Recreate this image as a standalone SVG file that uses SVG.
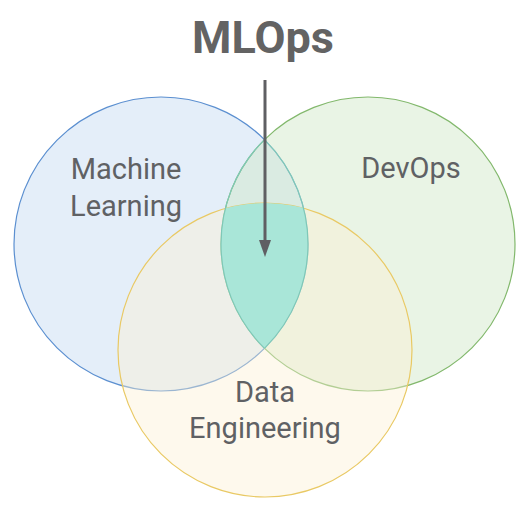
<svg xmlns="http://www.w3.org/2000/svg" width="526" height="514" viewBox="0 0 526 514">
<style>
.lbl{font-family:Roboto,"Liberation Sans",sans-serif;font-size:29px;fill:#5f6164;text-anchor:middle}
.title{font-family:Roboto,"Liberation Sans",sans-serif;font-size:45px;font-weight:bold;fill:#636363;text-anchor:middle}
.c{stroke-width:1.2}
</style>
<defs>
<clipPath id="clipB"><circle cx="161" cy="244" r="147"/></clipPath>
<clipPath id="clipG"><circle cx="368" cy="244" r="147"/></clipPath>
</defs>
<rect width="526" height="514" fill="#ffffff"/>
<g id="ml"><circle class="c" cx="161" cy="244" r="147" fill="#c9ddf3" fill-opacity="0.5" stroke="#5b8fd0"/></g>
<g id="devops"><circle class="c" cx="368" cy="244" r="147" fill="#cfe6c6" fill-opacity="0.45" stroke="#82b86c"/></g>
<g id="de"><circle class="c" cx="265" cy="350" r="147" fill="#fcf1d3" fill-opacity="0.4" stroke="#e9c964"/></g>
<g id="mlops-region" clip-path="url(#clipB)"><g clip-path="url(#clipG)"><circle cx="265" cy="350" r="147" fill="#a9e6d8"/></g></g>
<g id="lens-outline" fill="none" stroke-width="1.2">
<circle cx="161" cy="244" r="147" stroke="#7ec8b8" clip-path="url(#clipG)"/>
<circle cx="368" cy="244" r="147" stroke="#7ec8b8" clip-path="url(#clipB)"/>
</g>
<g id="labels">
<text class="lbl" x="126" y="179">Machine</text>
<text class="lbl" x="126" y="216">Learning</text>
<text class="lbl" x="411" y="178">DevOps</text>
<text class="lbl" x="265" y="402">Data</text>
<text class="lbl" x="265" y="438">Engineering</text>
</g>
<g id="title"><text class="title" x="263" y="53">MLOps</text></g>
<g id="connectors">
<line x1="265" y1="80" x2="265" y2="242" stroke="#5f5f63" stroke-width="3"/>
<polygon points="259,240 271,240 265,257" fill="#5f5f63"/>
</g>
</svg>
